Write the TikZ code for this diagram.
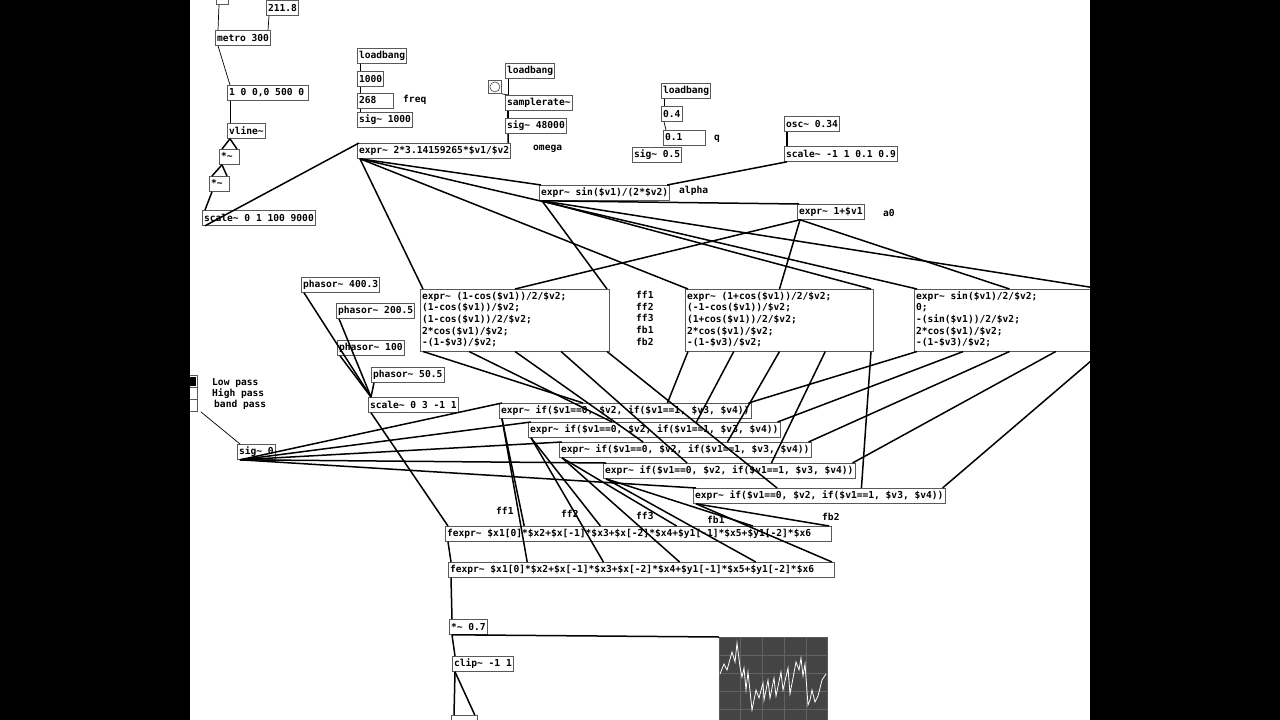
\documentclass[tikz,border=0pt]{standalone}
\usepackage{fontspec}
\setmonofont{DejaVu Sans Mono}[BoldFont={DejaVu Sans Mono Bold}]
\usetikzlibrary{calc}
\definecolor{PdGrey}{HTML}{595959}
\definecolor{ScopeBg}{HTML}{444444}
\newcommand\pdbox[2]{\makebox[#1][l]{\begin{tabular}{@{}l@{}}#2\end{tabular}}}

\begin{document}
\begin{tikzpicture}[x=1pt,y=-1pt,
    obj/.style={draw=PdGrey, line width=.8pt, anchor=north west, inner sep=1.6pt,
      font=\ttfamily\bfseries\fontsize{9.6}{11.7}\selectfont, minimum height=15pt},
    lbl/.style={anchor=west, inner sep=0pt, font=\ttfamily\bfseries\fontsize{9.6}{11.5}\selectfont},
    sig/.style={line width=1.5pt},
    ctl/.style={line width=.7pt}
  ]
  \useasboundingbox (0,0) rectangle (1280,720);
  \fill[white] (190,0) rectangle (1090,720);

  % left control chain
  \node[obj, minimum width=12pt, minimum height=8pt] (tgl) at (216,-4) {};
  \node[obj] (tempo) at (266,0) {211.8};
  \node[obj] (metro) at (215,30) {metro 300};
  \node[obj] (ramp) at (227,85) {\pdbox{78pt}{1 0 0,0 500 0}};
  \node[obj] (vline) at (227,123) {vline\textasciitilde};
  \node[obj] (sqa) at (219,149) {\pdbox{17pt}{*\textasciitilde}};
  \node[obj] (sqb) at (209,176) {\pdbox{17pt}{*\textasciitilde}};
  \node[obj] (fscale) at (202,210) {scale\textasciitilde{} 0 1 100 9000};

  % frequency and samplerate
  \node[obj] (lbfreq) at (357,48) {loadbang};
  \node[obj] (fmsg) at (357,71) {1000};
  \node[obj] (fnum) at (357,93) {\pdbox{33pt}{268}};
  \node[lbl] (freqlbl) at (403,100) {freq};
  \node[obj] (fsig) at (357,112) {sig\textasciitilde{} 1000};
  \node[obj] (lbsr) at (505,63) {loadbang};
  \node[obj, minimum width=13pt, minimum height=13pt] (bng) at (488,80) {};
  \draw[PdGrey, line width=.7pt] (bng.center) circle (5pt);
  \node[obj] (srate) at (505,95) {samplerate\textasciitilde};
  \node[obj] (srsig) at (505,118) {sig\textasciitilde{} 48000};
  \node[obj] (omega) at (357,143) {expr\textasciitilde{} 2*3.14159265*\$v1/\$v2};
  \node[lbl] (omegalbl) at (533,149) {omega};

  % q and alpha
  \node[obj] (lbq) at (661,83) {loadbang};
  \node[obj] (qmsg) at (661,106) {0.4};
  \node[obj] (qnum) at (663,130) {\pdbox{39pt}{0.1}};
  \node[lbl] (qlbl) at (714,139) {q};
  \node[obj] (qsig) at (632,147) {sig\textasciitilde{} 0.5};
  \node[obj] (osc) at (784,116) {osc\textasciitilde{} 0.34};
  \node[obj] (qscale) at (784,146) {scale\textasciitilde{} -1 1 0.1 0.9};
  \node[obj] (alpha) at (539,185) {expr\textasciitilde{} sin(\$v1)/(2*\$v2)};
  \node[lbl] (alphalbl) at (679,191) {alpha};
  \node[obj] (azero) at (797,204) {expr\textasciitilde{} 1+\$v1};
  \node[lbl] (azerolbl) at (883,213) {a0};

  % coefficient tables
  \node[obj] (lp) at (420,289)
    {\pdbox{186pt}{expr\textasciitilde{} (1-cos(\$v1))/2/\$v2;\\(1-cos(\$v1))/\$v2;\\(1-cos(\$v1))/2/\$v2;\\2*cos(\$v1)/\$v2;\\-(1-\$v3)/\$v2;}};
  \node[obj] (hp) at (685,289)
    {\pdbox{185pt}{expr\textasciitilde{} (1+cos(\$v1))/2/\$v2;\\(-1-cos(\$v1))/\$v2;\\(1+cos(\$v1))/2/\$v2;\\2*cos(\$v1)/\$v2;\\-(1-\$v3)/\$v2;}};
  \node[obj] (bp) at (914,289)
    {\pdbox{187pt}{expr\textasciitilde{} sin(\$v1)/2/\$v2;\\0;\\-(sin(\$v1))/2/\$v2;\\2*cos(\$v1)/\$v2;\\-(1-\$v3)/\$v2;}};
  \foreach \t [count=\k] in {ff1,ff2,ff3,fb1,fb2}
    \node[lbl] (coef\k) at (636,283+11.8*\k) {\t};

  % phasors
  \node[obj] (ph1) at (301,277) {phasor\textasciitilde{} 400.3};
  \node[obj] (ph2) at (336,303) {phasor\textasciitilde{} 200.5};
  \node[obj] (ph3) at (337,340) {phasor\textasciitilde{} 100};
  \node[obj] (ph4) at (371,367) {phasor\textasciitilde{} 50.5};
  \node[obj] (phscale) at (368,397) {scale\textasciitilde{} 0 3 -1 1};

  % filter type
  \node[obj, minimum width=12pt, minimum height=36pt] (radio) at (185,375) {};
  \fill (186,377) rectangle (196,386);
  \draw[PdGrey] (185,387) -- (197,387) (185,399) -- (197,399);
  \node[lbl] (lowlbl) at (212,383) {Low pass};
  \node[lbl] (highlbl) at (212,394) {High pass};
  \node[lbl] (bandlbl) at (214,405) {band pass};
  \node[obj] (mode) at (237,444) {sig\textasciitilde{} 0};

  % selectors
  \node[obj] (sel1) at (499,403) {expr\textasciitilde{} if(\$v1==0, \$v2, if(\$v1==1, \$v3, \$v4))};
  \node[obj] (sel2) at (528,422) {expr\textasciitilde{} if(\$v1==0, \$v2, if(\$v1==1, \$v3, \$v4))};
  \node[obj] (sel3) at (559,442) {expr\textasciitilde{} if(\$v1==0, \$v2, if(\$v1==1, \$v3, \$v4))};
  \node[obj] (sel4) at (603,463) {expr\textasciitilde{} if(\$v1==0, \$v2, if(\$v1==1, \$v3, \$v4))};
  \node[obj] (sel5) at (693,488) {expr\textasciitilde{} if(\$v1==0, \$v2, if(\$v1==1, \$v3, \$v4))};

  % biquads
  \node[lbl] (ff1lbl) at (496,511) {ff1};
  \node[lbl] (ff2lbl) at (561,514) {ff2};
  \node[lbl] (ff3lbl) at (636,516) {ff3};
  \node[lbl] (fb1lbl) at (707,520) {fb1};
  \node[lbl] (fb2lbl) at (822,517) {fb2};
  \node[obj] (bq1) at (445,526) {\pdbox{383pt}{fexpr\textasciitilde{} \$x1[0]*\$x2+\$x[-1]*\$x3+\$x[-2]*\$x4+\$y1[-1]*\$x5+\$y1[-2]*\$x6}};
  \node[obj] (bq2) at (448,562) {\pdbox{383pt}{fexpr\textasciitilde{} \$x1[0]*\$x2+\$x[-1]*\$x3+\$x[-2]*\$x4+\$y1[-1]*\$x5+\$y1[-2]*\$x6}};

  % output
  \node[obj] (gain) at (449,619) {*\textasciitilde{} 0.7};
  \node[obj] (clip) at (452,656) {clip\textasciitilde{} -1 1};
  \node[obj, minimum width=26pt] (dac) at (451,715) {};
  \node[draw=PdGrey, fill=ScopeBg, anchor=north west, minimum width=108pt, minimum height=90pt, inner sep=0pt] (scope) at (719,637) {};
  \foreach \gx in {740,762,784,806} \draw[gray!50!ScopeBg, line width=.3pt] (\gx,637) -- (\gx,720);
  \foreach \gy in {655,673,691,709} \draw[gray!50!ScopeBg, line width=.3pt] (719,\gy) -- (827,\gy);
  \draw[white, line width=.8pt] (720,674) -- (724,664) -- (727,670) -- (732,652) -- (735,662) -- (737,643)
    -- (740,667) -- (742,677) -- (744,668) -- (746,690) -- (748,672) -- (752,710) -- (756,690) -- (759,698)
    -- (763,683) -- (764,700) -- (768,680) -- (770,698) -- (774,678) -- (776,696) -- (781,672) -- (783,690)
    -- (788,668) -- (790,694) -- (796,662) -- (799,670) -- (801,658) -- (803,676) -- (805,664) -- (808,705)
    -- (810,700) -- (812,690) -- (815,702) -- (818,696) -- (822,680) -- (826,674);

  % control connections
  \draw[ctl] ([xshift=3pt]tgl.south west) -- ([xshift=3pt]metro.north west);
  \draw[ctl] ([xshift=3pt]tempo.south west) -- ([xshift=-3pt]metro.north east);
  \draw[ctl] ([xshift=3pt]metro.south west) -- ([xshift=3pt]ramp.north west);
  \draw[ctl] ([xshift=3pt]ramp.south west) -- ([xshift=3pt]vline.north west);
  \draw[ctl] ([xshift=3pt]lbfreq.south west) -- ([xshift=3pt]fmsg.north west);
  \draw[ctl] ([xshift=3pt]fmsg.south west) -- ([xshift=3pt]fnum.north west);
  \draw[ctl] ([xshift=3pt]fnum.south west) -- ([xshift=3pt]fsig.north west);
  \draw[ctl] ([xshift=3pt]lbsr.south west) -- ([xshift=3pt]srate.north west);
  \draw[ctl] (bng.south east) -- ([xshift=3pt]srate.north west);
  \draw[ctl] ([xshift=3pt]lbq.south west) -- ([xshift=3pt]qmsg.north west);
  \draw[ctl] ([xshift=3pt]qmsg.south west) -- ([xshift=3pt]qnum.north west);
  \draw[ctl] ([xshift=3pt]radio.south east) -- ([xshift=3pt]mode.north west);

  % signal connections
  \draw[sig] ([xshift=3pt]vline.south west) -- ([xshift=3pt]sqa.north west);
  \draw[sig] ([xshift=3pt]vline.south west) -- ([xshift=-3pt]sqa.north east);
  \draw[sig] ([xshift=3pt]sqa.south west) -- ([xshift=3pt]sqb.north west);
  \draw[sig] ([xshift=3pt]sqa.south west) -- ([xshift=-3pt]sqb.north east);
  \draw[sig] ([xshift=3pt]sqb.south west) -- ([xshift=3pt]fscale.north west);
  \draw[sig] ([xshift=3pt]fscale.south west) -- ([xshift=2pt]omega.north west);
  \draw[sig] ([xshift=3pt]srate.south west) -- ([xshift=3pt]srsig.north west);
  \draw[sig] ([xshift=3pt]srsig.south west) -- ([xshift=-3pt]omega.north east);
  \draw[sig] ([xshift=3pt]osc.south west) -- ([xshift=3pt]qscale.north west);
  \draw[sig] ([xshift=3pt]qscale.south west) -- ([xshift=-3pt]alpha.north east);
  \draw[sig] ([xshift=3pt]omega.south west) -- ([xshift=2pt]alpha.north west);
  \draw[sig] ([xshift=3pt]alpha.south west) -- ([xshift=2pt]azero.north west);
  \foreach \tab in {lp,hp,bp} {
    \draw[sig] ([xshift=3pt]omega.south west) -- ([xshift=3pt]\tab.north west);
    \draw[sig] ([xshift=3pt]azero.south west) -- ($(\tab.north west)!.5!(\tab.north east)$);
    \draw[sig] ([xshift=3pt]alpha.south west) -- ([xshift=-3pt]\tab.north east);
  }
  \foreach \i [evaluate=\i as \f using (\i-1)/4] in {1,...,5} {
    \draw[sig] ([xshift=3pt]mode.south west) -- ([xshift=3pt]sel\i.north west);
    \draw[sig] ($(lp.south west)!\f!(lp.south east)+(3-6*\f,0)$) -- ($(sel\i.north west)!.333!(sel\i.north east)$);
    \draw[sig] ($(hp.south west)!\f!(hp.south east)+(3-6*\f,0)$) -- ($(sel\i.north west)!.667!(sel\i.north east)$);
    \draw[sig] ($(bp.south west)!\f!(bp.south east)+(3-6*\f,0)$) -- ([xshift=-3pt]sel\i.north east);
    \draw[sig] ([xshift=3pt]sel\i.south west) -- ($(bq1.north west)!\i/5!(bq1.north east)+(3-6*\i/5,0)$);
    \draw[sig] ([xshift=3pt]sel\i.south west) -- ($(bq2.north west)!\i/5!(bq2.north east)+(3-6*\i/5,0)$);
  }
  \foreach \ph in {ph1,ph2,ph3,ph4}
    \draw[sig] ([xshift=3pt]\ph.south west) -- ([xshift=3pt]phscale.north west);
  \draw[sig] ([xshift=3pt]phscale.south west) -- ([xshift=3pt]bq1.north west);
  \draw[sig] ([xshift=3pt]bq1.south west) -- ([xshift=3pt]bq2.north west);
  \draw[sig] ([xshift=3pt]bq2.south west) -- ([xshift=3pt]gain.north west);
  \draw[sig] ([xshift=3pt]gain.south west) -- ([xshift=3pt]clip.north west);
  \draw[sig] ([xshift=3pt]gain.south west) -- (scope.north west);
  \draw[sig] ([xshift=3pt]clip.south west) -- ([xshift=3pt]dac.north west);
  \draw[sig] ([xshift=3pt]clip.south west) -- ([xshift=-3pt]dac.north east);

  % screen borders
  \fill[black] (0,0) rectangle (190,720);
  \fill[black] (1090,0) rectangle (1280,720);
\end{tikzpicture}
\end{document}
